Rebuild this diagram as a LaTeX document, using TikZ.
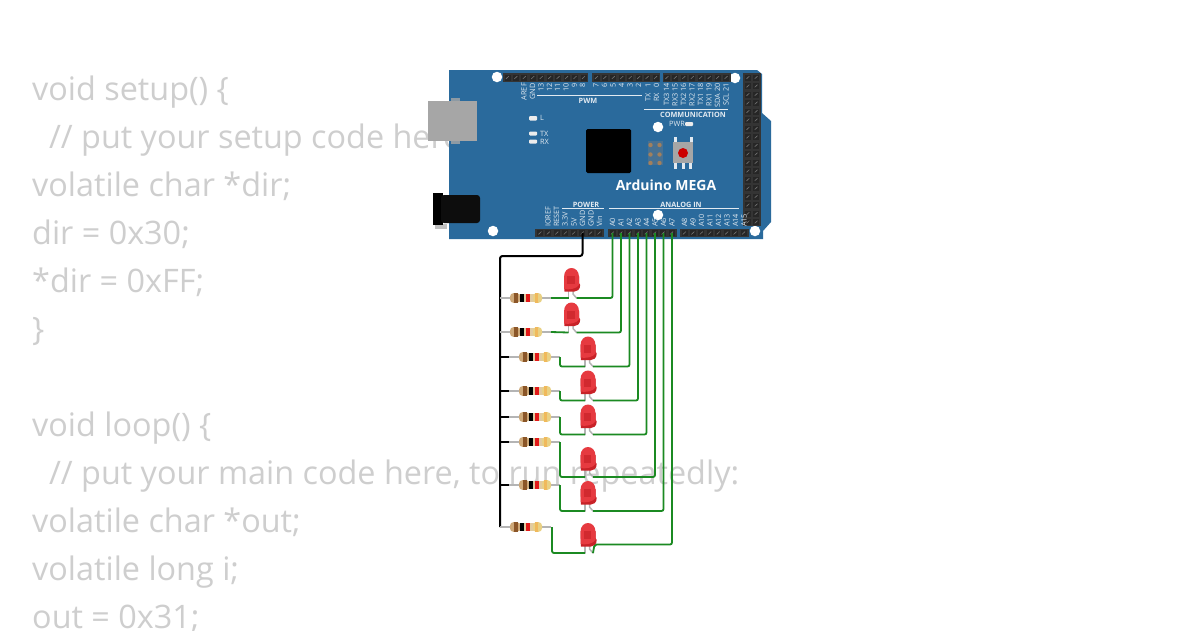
\documentclass[tikz,border=0pt]{standalone}
\usepackage{fontspec}
\setmainfont{Open Sans}
\definecolor{codegray}{HTML}{CECECE}
\definecolor{boardblue}{HTML}{2A6A9C}
\definecolor{hdr}{HTML}{343434}
\definecolor{wiregreen}{HTML}{1B8A22}
\definecolor{ledred}{HTML}{E63A40}
\definecolor{leddark}{HTML}{C82228}
\definecolor{leadgray}{HTML}{B4B4B4}
\definecolor{silk}{HTML}{E2EAF1}
\definecolor{resbody}{HTML}{E2CBA0}
\definecolor{resleft}{HTML}{CDA878}
\definecolor{resright}{HTML}{E9D184}
\definecolor{resbrown}{HTML}{8B5628}
\definecolor{resred}{HTML}{E21A1A}
\definecolor{usbgray}{HTML}{A6A6A6}
\tikzset{
  codeline/.style={anchor=base west,inner sep=0pt,text=codegray,font=\fontsize{32.37}{36}\selectfont},
  greenwire/.style={draw=wiregreen,line width=1.8pt,rounded corners=2pt},
  blackwire/.style={draw=black,line width=2pt,rounded corners=2.5pt},
  lead/.style={draw=leadgray,line width=1.5pt},
  pinlabel/.style={inner sep=0pt,rotate=90,text=silk,font=\fontsize{7.3}{8}\selectfont},
  boldlabel/.style={inner sep=0pt,text=silk,font=\bfseries\fontsize{7.3}{8}\selectfont},
  smalllabel/.style={inner sep=0pt,anchor=west,text=silk,font=\fontsize{7.3}{8}\selectfont},
  silkline/.style={draw=silk,line width=0.6pt},
  hole/.style={circle,fill=white,inner sep=0pt,minimum size=10.5pt},
  smdled/.style={fill=white!85!gray,rounded corners=1pt}
}
% header row: first pin x, count, y
\newcommand{\hdrrow}[3]{%
  \foreach \k in {1,...,#2}{
    \pgfmathsetmacro{\px}{#1+8.45*(\k-1)}
    \fill[black!85] (\px-3,#3-3) rectangle (\px+3,#3+3);
    \draw[black!55,line width=0.6pt] (\px-1.6,#3+1.4) -- (\px+1.4,#3-1.4);
  }}
% resistor: name, left x of body, y
\newcommand{\resistor}[3]{%
  \fill[resbody] (#2+4,#3-3.6) rectangle (#2+28,#3+3.6);
  \fill[resleft,rounded corners=3.5pt] (#2,#3-4.9) rectangle (#2+10,#3+4.9);
  \fill[resright,rounded corners=3.5pt] (#2+23,#3-4.9) rectangle (#2+32,#3+4.9);
  \fill[resbrown] (#2+3.5,#3-4.9) rectangle (#2+8,#3+4.9);
  \fill[black] (#2+10,#3-3.8) rectangle (#2+13.5,#3+3.8);
  \fill[resred] (#2+16,#3-3.8) rectangle (#2+20,#3+3.8);
  \fill[resright!70!orange] (#2+24.5,#3-4.9) rectangle (#2+27.5,#3+4.9);
  \coordinate (#1l) at (#2,#3);
  \coordinate (#1r) at (#2+32,#3);
}
% led: name, centre x, top y
\newcommand{\ledpart}[3]{%
  \draw[lead,line cap=round] (#2-3,#3+21) -- (#2-3,#3+30);
  \draw[lead,line cap=round] (#2+1.5,#3+21) -- (#2+1.5,#3+26) -- (#2+5,#3+30);
  \fill[leddark] (#2-7.5,#3+8) -- (#2+7.5,#3+8) -- (#2+7.5,#3+15)
     .. controls (#2+9.5,#3+16) and (#2+9.5,#3+23) .. (#2+3,#3+23.5) -- (#2-7,#3+23.5) -- cycle;
  \fill[ledred] (#2-7.5,#3+21) -- (#2-7.5,#3+9) .. controls (#2-7.5,#3-3) and (#2+7.5,#3-3) .. (#2+7.5,#3+9) -- (#2+7.5,#3+17)
     .. controls (#2+5,#3+21) and (#2-3,#3+22) .. (#2-7.5,#3+21) -- cycle;
  \fill[leddark!70!ledred] (#2-4.5,#3+8) rectangle (#2+3,#3+16);
  \coordinate (#1a) at (#2-3,#3+30);
  \coordinate (#1c) at (#2+5,#3+30);
}
\begin{document}
\begin{tikzpicture}[x=1pt,y=-1pt]
\useasboundingbox (0,0) rectangle (1200,630);
\fill[white] (0,0) rectangle (1200,630);
% code text
\node[codeline] (c1) at (32,100) {void setup() \{};
\node[codeline] (c2) at (32,148) {\ \ // put your setup code here};
\node[codeline] (c3) at (32,196) {volatile char *dir;};
\node[codeline] (c4) at (32,244) {dir = 0x30;};
\node[codeline] (c5) at (32,292) {*dir = 0xFF;};
\node[codeline] (c6) at (32,340) {\}};
\node[codeline] (c7) at (32,436) {void loop() \{};
\node[codeline] (c8) at (32,484) {\ \ // put your main code here, to run repeatedly:};
\node[codeline] (c9) at (32,532) {volatile char *out;};
\node[codeline] (c10) at (32,580) {volatile long i;};
\node[codeline] (c11) at (32,628) {out = 0x31;};
% board
\fill[boardblue] (449,70) -- (757,70) -- (762,74) -- (762,113) -- (771,121) -- (771,222) -- (763,231) -- (763,239) -- (449,239) -- cycle;
% USB and jack
\fill[usbgray!80!boardblue] (451,98) rectangle (460,144);
\fill[usbgray] (428,101) rectangle (477,141);
\fill[black!35,opacity=.7] (435,224) rectangle (447,229);
\fill[black] (433,193) rectangle (443,225);
\fill[rounded corners=3pt,black!95] (441,195) rectangle (480,223);
% holes
\node[hole] (h1) at (497,77) {};
\node[hole] (h2) at (735,78) {};
\node[hole] (h3) at (658,127) {};
\node[hole] (h4) at (493,231) {};
\node[hole] (h5) at (658,215) {};
\node[hole] (h6) at (755,231) {};
% headers
\fill[hdr] (503,73) rectangle (588,82);
\fill[hdr] (592,73) rectangle (660,82);
\fill[hdr] (663,73) rectangle (731,82);
\hdrrow{507.5}{10}{77.5}
\hdrrow{596.5}{8}{77.5}
\hdrrow{667}{8}{77.5}
\fill[hdr] (535,229) rectangle (604,237);
\fill[hdr] (608,229) rectangle (677,237);
\fill[hdr] (680,229) rectangle (749,237);
\hdrrow{540}{8}{233}
\hdrrow{612.5}{8}{233}
\hdrrow{684.5}{8}{233}
\fill[hdr] (743,73) rectangle (761,226);
\foreach \r in {0,...,17}{
  \pgfmathsetmacro{\ry}{77.5+8.5*\r}
  \fill[black!85] (745,\ry-3) rectangle (750.8,\ry+3);
  \fill[black!85] (753.2,\ry-3) rectangle (759,\ry+3);
  \draw[black!55,line width=0.6pt] (746.5,\ry+1.3) -- (749.3,\ry-1.3);
  \draw[black!55,line width=0.6pt] (754.7,\ry+1.3) -- (757.5,\ry-1.3);
}
% chip, ICSP, button
\fill[rounded corners=1.5pt,black] (586,129) rectangle (631,173);
\fill[boardblue!65!gray] (648,141) rectangle (663,165);
\foreach \ix/\iy in {650.5/145,659.5/145,650.5/154.5,659.5/154.5,650.5/163,659.5/163}{
  \fill[brown!55!gray] (\ix,\iy) circle (2.2);
}
\fill[silk] (673.5,137) rectangle (676.5,143);
\fill[silk] (689.5,137) rectangle (692.5,143);
\fill[silk] (674,162) rectangle (677,169);
\fill[silk] (681.5,162) rectangle (684.5,169);
\fill[silk] (689,162) rectangle (692,169);
\fill[gray!70] (673,142) rectangle (693,163);
\fill[red!80!black] (683,153) circle (5);
% smd leds
\fill[smdled] (529,116) rectangle (537,120.5);
\fill[smdled] (529,131.5) rectangle (537,135.5);
\fill[smdled] (529,139.5) rectangle (537,143.5);
\fill[smdled] (685,122) rectangle (693,126);
\node[smalllabel] (lL) at (540,118) {L};
\node[smalllabel] (lTX) at (540,133.5) {TX};
\node[smalllabel] (lRX) at (540,141.5) {RX};
\node[smalllabel] (lPWR) at (669,123.5) {PWR};
% top pin labels
\foreach \lx/\lt in {524/AREF,532.5/GND,541/13,549.5/12,557.5/11,566/10,574.5/9,582.5/8,596/7,604.5/6,613/5,621.5/4,630/3,638.5/2,648/{TX\ \ \ 1},656.5/{RX\ \ \ 0},666.5/{TX3 14},675/{RX3 15},683.5/{TX2 16},692/{RX2 17},700.5/{TX1 18},709/{RX1 19},717.5/{SDA 20},726/{SCL 21}}{
  \node[pinlabel,anchor=east] (t\lx) at (\lx,83) {\lt};
}
% bottom pin labels
\foreach \lx/\lt in {548/IOREF,556.5/RESET,565/3.3V,574/5V,582.5/GND,591/GND,599.5/Vin,612.5/A0,621/A1,629.5/A2,638/A3,646.5/A4,655/A5,663.5/A6,672/A7,684.5/A8,693/A9,701.5/A10,710/A11,718.5/A12,727/A13,735.5/A14,744/A15}{
  \node[pinlabel,anchor=west] (b\lx) at (\lx,227) {\lt};
}
\draw[silkline] (537,95) -- (642,95);
\draw[silkline] (644,109) -- (728,109);
\draw[silkline] (562,208) -- (604,208);
\draw[silkline] (609,208) -- (739,208);
\node[boldlabel] (pwm) at (588,100.5) {PWM};
\node[boldlabel] (comm) at (693,114.5) {COMMUNICATION};
\node[boldlabel] (power) at (586,204.5) {POWER};
\node[boldlabel] (analog) at (681,204.5) {ANALOG IN};
\node[inner sep=0pt,text=white!95!silk,font=\bfseries\fontsize{14}{16}\selectfont] (mega) at (666,185.5) {Arduino MEGA};
% pin coordinates
\coordinate (gnd) at (582.5,233);
\foreach \n/\x in {0/612.5,1/621,2/629.5,3/638,4/646.5,5/655,6/663.5,7/672}{
  \coordinate (A\n) at (\x,233);
}
% bus
\coordinate (busa) at (582.5,256);
\coordinate (busb) at (500,256);
\coordinate (busc) at (500,527);
\draw[blackwire] (gnd) -- (busa) -- (busb) -- (busc);
% resistors' leads
\foreach \y/\xa/\xb in {298/500/551,332/500/551,527/500/551,357/509/560,391/509/560,417/509/560,442/509/560,485/509/560}{
  \draw[lead] (\xa,\y) -- (\xb,\y);
}
\foreach \y in {357,391,417,442,485}{
  \draw[draw=black,line width=1.5pt] (500,\y) -- (509,\y);
}
\resistor{r1}{510}{298}
\resistor{r2}{510}{332}
\resistor{r3}{519}{357}
\resistor{r4}{519}{391}
\resistor{r5}{519}{417}
\resistor{r6}{519}{442}
\resistor{r7}{519}{485}
\resistor{r8}{510}{527}
% green wires
\coordinate (e1) at (551,298);
\coordinate (e2) at (551,332);
\coordinate (e3) at (560,357);
\coordinate (e4) at (560,391);
\coordinate (e5) at (560,417);
\coordinate (e6) at (560,442);
\coordinate (e7) at (560,485);
\coordinate (e8) at (552,527);
\ledpart{d1}{571.5}{268}
\ledpart{d2}{571.5}{302.5}
\ledpart{d3}{588}{336.5}
\ledpart{d4}{588}{370.5}
\ledpart{d5}{588}{404.5}
\ledpart{d6}{588}{447}
\ledpart{d7}{588}{481}
\ledpart{d8}{588}{523}
\draw[greenwire] (e1) -- (d1a);
\draw[greenwire] (e2) -- (d2a);
\foreach \i in {3,...,8}{
  \draw[greenwire] (e\i) -- (e\i |- d\i a) -- (d\i a);
}
\foreach \i/\p in {1/0,2/1,3/2,4/3,5/4,6/5,7/6}{
  \draw[greenwire] (d\i c) -- (A\p |- d\i c) -- (A\p);
}
\coordinate (d8t) at (594.5,544.5);
\draw[greenwire] (d8c) -- (d8t) -- (A7 |- d8t) -- (A7);
\end{tikzpicture}
\end{document}
